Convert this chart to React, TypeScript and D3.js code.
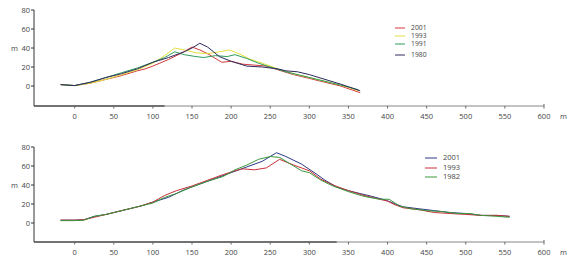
import * as d3 from "d3";

type Pt = [number, number];

// top panel profiles (distance m, elevation m)
const top2001: Pt[] = [[-18,1.5],[0,0.5],[20,3],[40,7],[60,11],[80,16],[90,18],[100,21],[120,28],[135,34],[150,41],[160,38],[170,34],[188,25],[200,26],[215,23],[230,22],[245,21],[260,17],[280,12],[300,8],[320,4],[340,0],[365,-7]];
const top1993: Pt[] = [[-18,1.5],[0,0.5],[20,3],[40,7],[60,12],[80,17],[100,24],[115,32],[128,40],[140,38],[155,35],[170,34],[185,36],[198,38],[210,34],[225,28],[240,24],[260,18],[280,13],[300,9],[320,5],[340,1],[363,-5]];
const top1991: Pt[] = [[-18,1.5],[0,0.5],[20,4],[40,9],[60,14],[80,19],[100,25],[115,30],[128,36],[140,33],[155,31],[165,30],[180,32],[195,31],[205,33],[220,29],[235,24],[250,20],[270,15],[290,11],[310,7],[330,3],[350,-1],[363,-4]];
const top1980: Pt[] = [[-18,1.5],[0,0.5],[20,4],[40,9],[60,13],[80,18],[100,25],[120,30],[140,36],[150,40],[160,45],[170,41],[185,31],[200,26],[220,21],[240,20],[260,18],[270,16],[285,15],[300,12],[320,7],[340,2],[365,-5]];

// bottom panel profiles
const bot2001: Pt[] = [[-18,3],[0,3],[12,3.5],[25,7],[40,9],[55,12],[70,15],[85,18],[100,22],[120,27],[140,35],[160,41],[180,47],[200,53],[220,59],[240,65],[258,74],[270,70],[290,62],[310,51],[320,45],[335,38],[350,34],[365,31],[380,28],[398,24],[410,20],[420,17],[440,15],[460,13],[480,11],[500,10],[520,8],[540,8],[556,7]];
const bot1993: Pt[] = [[-18,3],[0,3],[12,3.5],[25,6],[40,9],[55,12],[70,15],[85,18],[100,22],[115,29],[130,34],[150,39],[170,45],[190,51],[205,55],[215,57],[230,56],[245,58],[262,67],[280,61],[300,55],[315,46],[330,40],[350,34],[370,29],[390,25],[400,23],[410,19],[420,16],[440,14],[460,11],[480,10],[500,9],[520,8],[540,8],[556,7]];
const bot1982: Pt[] = [[-18,2.5],[0,2.5],[12,3],[25,7],[40,9],[55,12],[70,15],[85,18],[100,21],[115,27],[130,31],[150,38],[170,44],[190,49],[205,56],[220,61],[235,67],[250,70],[262,69],[280,60],[290,55],[300,53],[315,45],[330,39],[350,33],[370,28],[390,25],[402,25],[415,18],[430,15],[450,13],[470,12],[490,10],[505,10],[520,8],[540,7],[556,6]];

const xTicks = [0, 50, 100, 150, 200, 250, 300, 350, 400, 450, 500, 550, 600];
const yTicks = [0, 20, 40, 60, 80];

const topSeries = [
  { name: "2001", data: top2001, color: "#d23a3c" },
  { name: "1993", data: top1993, color: "#e4e03c" },
  { name: "1991", data: top1991, color: "#2f9e5c" },
  { name: "1980", data: top1980, color: "#2e2a5e" },
];
const botSeries = [
  { name: "2001", data: bot2001, color: "#2c3888" },
  { name: "1993", data: bot1993, color: "#c8303a" },
  { name: "1982", data: bot1982, color: "#3a983a" },
];

const FONT = "'Open Sans', 'DejaVu Sans', sans-serif";
const TXT = "#444";

function Panel({ series, yRange, yDomain, legend, darkTo }: {
  series: { name: string; data: Pt[]; color: string }[];
  yRange: [number, number];
  yDomain: [number, number];
  legend: { x: number; ys: number[]; len: number; size: number };
  darkTo: number;
}) {
  const x = d3.scaleLinear().domain([-52, 600]).range([34, 544]);
  const y = d3.scaleLinear().domain(yDomain).range(yRange);
  const line = d3.line<Pt>().x((d) => x(d[0])).y((d) => y(d[1]));
  const base = yRange[0];
  return (
    <g>
      {series.map((s) => (
        <path key={s.name} d={line(s.data) ?? ""} fill="none" stroke={s.color} strokeWidth={1} />
      ))}
      {/* y axis */}
      <line x1={34} x2={34} y1={y(80)} y2={base} stroke="#333" strokeWidth={1} />
      {yTicks.map((t) => (
        <g key={t}>
          <line x1={31} x2={34} y1={y(t)} y2={y(t)} stroke="#333" />
          <text x={30} y={y(t) + 2.5} textAnchor="end" fontSize={7.5} fill={TXT} fontFamily={FONT}>{t}</text>
        </g>
      ))}
      <text x={11} y={y(40) + 2.5} fontSize={7.5} fill={TXT} fontFamily={FONT}>m</text>
      {/* x axis */}
      <line x1={34} x2={x(600)} y1={base} y2={base} stroke="#888" strokeWidth={1.2} />
      <line x1={34} x2={x(darkTo)} y1={base} y2={base} stroke="#222" strokeWidth={1.2} />
      {xTicks.map((t) => (
        <g key={t}>
          <line x1={x(t)} x2={x(t)} y1={base} y2={base + 2.5} stroke="#666" />
          <text x={x(t)} y={base + 13} textAnchor="middle" fontSize={7.5} fill={TXT} fontFamily={FONT}>{t}</text>
        </g>
      ))}
      <line x1={x(600)} x2={x(600)} y1={base - 2} y2={base} stroke="#666" />
      <text x={560} y={base + 13} fontSize={7.5} fill={TXT} fontFamily={FONT}>m</text>
      {/* legend */}
      {series.map((s, i) => (
        <g key={s.name}>
          <line x1={legend.x} x2={legend.x + legend.len} y1={legend.ys[i] + 1} y2={legend.ys[i] + 1} stroke={s.color} strokeWidth={1} />
          <text x={legend.x + legend.len + 6} y={legend.ys[i] + 3} fontSize={legend.size} fill={TXT} fontFamily={FONT}>{s.name}</text>
        </g>
      ))}
    </g>
  );
}

export default function App() {
  return (
    <div style={{ position: "absolute", left: 0, top: 0 }}>
      <svg width={575} height={263} style={{ display: "block", background: "#fff" }}>
        <Panel series={topSeries} yRange={[106, 10]} yDomain={[-21, 80]} darkTo={115}
          legend={{ x: 395, ys: [27, 35, 43, 54], len: 10, size: 6.8 }} />
        <Panel series={botSeries} yRange={[242, 147]} yDomain={[-20, 80]} darkTo={335}
          legend={{ x: 425, ys: [157, 167, 176], len: 12, size: 7.5 }} />
      </svg>
    </div>
  );
}
